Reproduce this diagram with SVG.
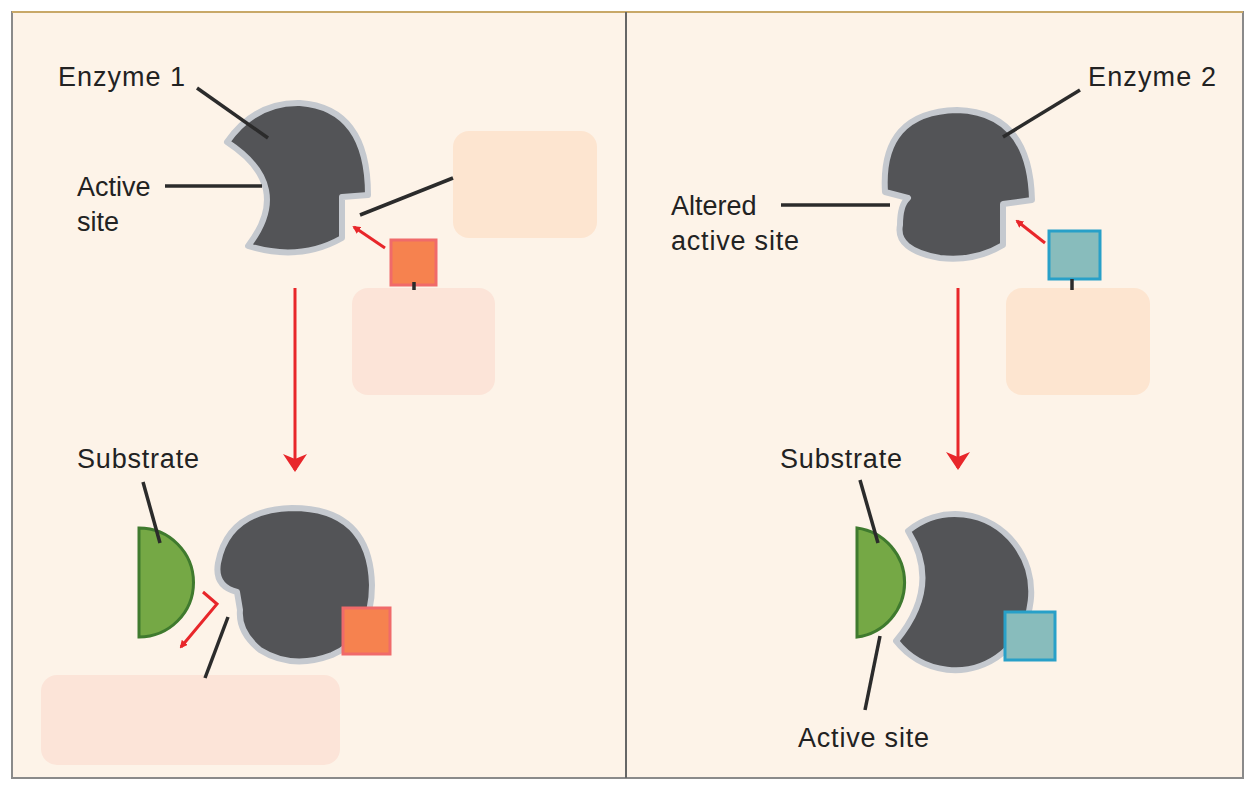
<svg xmlns="http://www.w3.org/2000/svg" width="1257" height="795" viewBox="0 0 1257 795">
<style>
.t{font-family:"Liberation Sans",Arial,sans-serif;font-size:27px;fill:#222}
.enz{fill:#535457;stroke:#c5c9cf;stroke-width:6;stroke-linejoin:round}
.ln{stroke:#2b2b2b;stroke-width:3.5;fill:none}
.red{stroke:#e8262a;stroke-width:3;fill:none}
.sub{fill:#75a845;stroke:#3f7a2e;stroke-width:3}
.or{fill:#f6824f;stroke:#f06a6a;stroke-width:3}
.te{fill:#88bcbc;stroke:#28a0c8;stroke-width:3}
</style>
<defs>
<marker id="ah" markerWidth="8" markerHeight="8" refX="6" refY="4" orient="auto" markerUnits="userSpaceOnUse" viewBox="0 0 8 8"><path d="M0,0 L8,4 L0,8 Z" fill="#e8262a"/></marker>
<marker id="ahb" markerWidth="18" markerHeight="24" refX="16" refY="12" orient="auto" markerUnits="userSpaceOnUse" viewBox="0 0 18 24"><path d="M0,0 L18,12 L0,24 L5,12 Z" fill="#e8262a"/></marker>
</defs>
<rect x="12" y="12" width="1231" height="766" fill="#fdf3e8" stroke="#8a8a8a" stroke-width="2"/>
<line x1="12" y1="12" x2="1243" y2="12" stroke="#c8a868" stroke-width="2"/>
<line x1="626" y1="12" x2="626" y2="778" stroke="#666" stroke-width="2"/>
<rect x="453" y="131" width="144" height="107" rx="16" fill="#fde5d0"/>
<rect x="352" y="288" width="143" height="107" rx="16" fill="#fce4d8"/>
<rect x="41" y="675" width="299" height="90" rx="16" fill="#fce4d8"/>
<rect x="1006" y="288" width="144" height="107" rx="16" fill="#fde5d0"/>
<g id="enzyme1"><path class="enz" d="M227,142 Q255,102 300,103 Q368,108 368,195 L342,197 L342,238 Q300,262 248,246 Q294.5,186 227,142 Z"/></g>
<g id="inhibitor1"><rect class="or" x="391" y="240" width="45" height="45"/></g>
<g id="enzyme1b"><path class="enz" d="M237,592 Q214,586 218,563 Q228,510 292,508 Q370,508 372,585 Q372,638 332,655 Q292,670 260,650 Q238,632 240,610 Z"/><rect class="or" x="343" y="608" width="47" height="46"/></g>
<g id="substrate1"><path class="sub" d="M139,528 A54.5,54.5 0 0 1 139,637 Z"/></g>
<g id="enzyme2"><path class="enz" d="M885,192 Q880,112 957,110 Q1030,112 1032,200 L1003,204 L1003,245 Q975,262 940,258 Q895,250 900,225 Q900,205 908,198 Z"/></g>
<g id="inhibitor2"><rect class="te" x="1049" y="231" width="51" height="48"/></g>
<g id="enzyme2b"><path class="enz" d="M908,531 A76,78 0 1 1 896,641 Q942,586 908,531 Z"/><rect class="te" x="1005" y="612" width="50" height="48"/></g>
<g id="substrate2"><path class="sub" d="M857,528 A55,55 0 0 1 857,637 Z"/></g>
<g id="connectors">
<line class="ln" x1="197" y1="88" x2="268" y2="138"/>
<line class="ln" x1="165" y1="186" x2="262" y2="186"/>
<line class="ln" x1="453" y1="178" x2="360" y2="215"/>
<line class="ln" x1="414" y1="282" x2="414" y2="290"/>
<line class="ln" x1="143" y1="482" x2="160" y2="543"/>
<line class="ln" x1="228" y1="617" x2="205" y2="678"/>
<line class="ln" x1="1080" y1="90" x2="1003" y2="137"/>
<line class="ln" x1="781" y1="205" x2="890" y2="205"/>
<line class="ln" x1="1072" y1="279" x2="1072" y2="290"/>
<line class="ln" x1="860" y1="480" x2="878" y2="543"/>
<line class="ln" x1="880" y1="636" x2="865" y2="710"/>
<line class="red" x1="385" y1="248" x2="354" y2="227" marker-end="url(#ah)"/>
<line class="red" x1="1045" y1="243" x2="1017" y2="221" marker-end="url(#ah)"/>
<polyline class="red" points="203,592 217,604 181,647" marker-end="url(#ah)"/>
<line class="red" x1="295" y1="288" x2="295" y2="470" marker-end="url(#ahb)"/>
<line class="red" x1="958" y1="288" x2="958" y2="468" marker-end="url(#ahb)"/>
</g>
<text class="t" x="58" y="86" textLength="127">Enzyme 1</text>
<text class="t" x="77" y="196">Active</text>
<text class="t" x="77" y="231">site</text>
<text class="t" x="77" y="468" textLength="122">Substrate</text>
<text class="t" x="1088" y="86" textLength="128">Enzyme 2</text>
<text class="t" x="671" y="215">Altered</text>
<text class="t" x="671" y="250" textLength="128">active site</text>
<text class="t" x="780" y="468" textLength="122">Substrate</text>
<text class="t" x="798" y="747" textLength="131">Active site</text>
</svg>
